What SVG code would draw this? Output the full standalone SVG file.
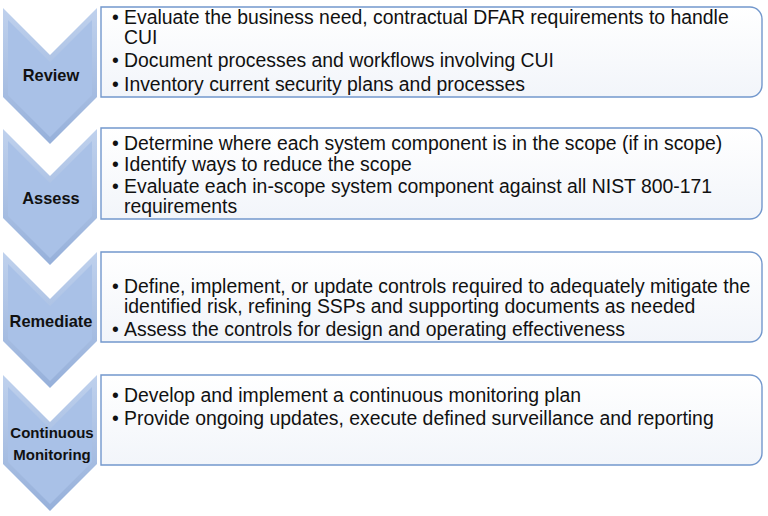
<svg xmlns="http://www.w3.org/2000/svg" width="768" height="516" viewBox="0 0 768 516">
<defs>
<linearGradient id="bev" x1="0" y1="0" x2="0" y2="1">
<stop offset="0" stop-color="#bfd1ed"/>
<stop offset="1" stop-color="#96b0da"/>
</linearGradient>
<linearGradient id="boxfill" x1="0" y1="0" x2="0" y2="1">
<stop offset="0" stop-color="#ffffff"/>
<stop offset="1" stop-color="#f2f5fa"/>
</linearGradient>
<polygon id="chevOuter" points="3,0 50,47 97,0 97,89 50,136 3,89"/>
<polygon id="chevInner" points="8,12 50,54 92,12 92,87 50,129 8,87"/>
</defs>
<style>
.outer{fill:url(#bev)}
.inner{fill:#a9c1e7}
.box{fill:url(#boxfill);stroke:#7398cd;stroke-width:1.4}
.lbl{font-family:"Liberation Sans",Arial,sans-serif;font-weight:bold;font-size:16.4px;fill:#111;text-anchor:middle}
.lbl2{font-family:"Liberation Sans",Arial,sans-serif;font-weight:bold;font-size:15px;fill:#111;text-anchor:middle}
.txt{font-family:"Liberation Sans",Arial,sans-serif;font-size:19.4px;fill:#111}
</style>
<rect width="768" height="516" fill="#ffffff"/>

<g id="review">
<use href="#chevOuter" class="outer" transform="translate(0,8)"/>
<use href="#chevInner" class="inner" transform="translate(0,8)"/>
<path class="box" d="M101,7 H750 A12,12 0 0 1 762,19 V85 A12,12 0 0 1 750,97 H101 Z"/>
<text class="lbl" x="51" y="81">Review</text>
<text class="txt" x="112" y="24">•</text><text class="txt" x="124" y="24">Evaluate the business need, contractual DFAR requirements to handle</text>
<text class="txt" x="124" y="44">CUI</text>
<text class="txt" x="112" y="67">•</text><text class="txt" x="124" y="67">Document processes and workflows involving CUI</text>
<text class="txt" x="112" y="91">•</text><text class="txt" x="124" y="91">Inventory current security plans and processes</text>
</g>

<g id="assess">
<use href="#chevOuter" class="outer" transform="translate(0,129)"/>
<use href="#chevInner" class="inner" transform="translate(0,129)"/>
<path class="box" d="M101,128 H750 A12,12 0 0 1 762,140 V207 A12,12 0 0 1 750,219 H101 Z"/>
<text class="lbl" x="51" y="204">Assess</text>
<text class="txt" x="112" y="150">•</text><text class="txt" x="124" y="150">Determine where each system component is in the scope (if in scope)</text>
<text class="txt" x="112" y="171">•</text><text class="txt" x="124" y="171">Identify ways to reduce the scope</text>
<text class="txt" x="112" y="193">•</text><text class="txt" x="124" y="193">Evaluate each in-scope system component against all NIST 800-171</text>
<text class="txt" x="124" y="213">requirements</text>
</g>

<g id="remediate">
<use href="#chevOuter" class="outer" transform="translate(0,252)"/>
<use href="#chevInner" class="inner" transform="translate(0,252)"/>
<path class="box" d="M101,252 H750 A12,12 0 0 1 762,264 V330 A12,12 0 0 1 750,342 H101 Z"/>
<text class="lbl" x="51" y="327">Remediate</text>
<text class="txt" x="112" y="293">•</text><text class="txt" x="124" y="293">Define, implement, or update controls required to adequately mitigate the</text>
<text class="txt" x="124" y="313">identified risk, refining SSPs and supporting documents as needed</text>
<text class="txt" x="112" y="336">•</text><text class="txt" x="124" y="336">Assess the controls for design and operating effectiveness</text>
</g>

<g id="continuous-monitoring">
<use href="#chevOuter" class="outer" transform="translate(0,375)"/>
<use href="#chevInner" class="inner" transform="translate(0,375)"/>
<path class="box" d="M101,375 H750 A12,12 0 0 1 762,387 V453 A12,12 0 0 1 750,465 H101 Z"/>
<text class="lbl2" x="52" y="438">Continuous</text>
<text class="lbl2" x="52" y="460">Monitoring</text>
<text class="txt" x="112" y="402">•</text><text class="txt" x="124" y="402">Develop and implement a continuous monitoring plan</text>
<text class="txt" x="112" y="425">•</text><text class="txt" x="124" y="425">Provide ongoing updates, execute defined surveillance and reporting</text>
</g>

<g id="connectors"></g>
</svg>
